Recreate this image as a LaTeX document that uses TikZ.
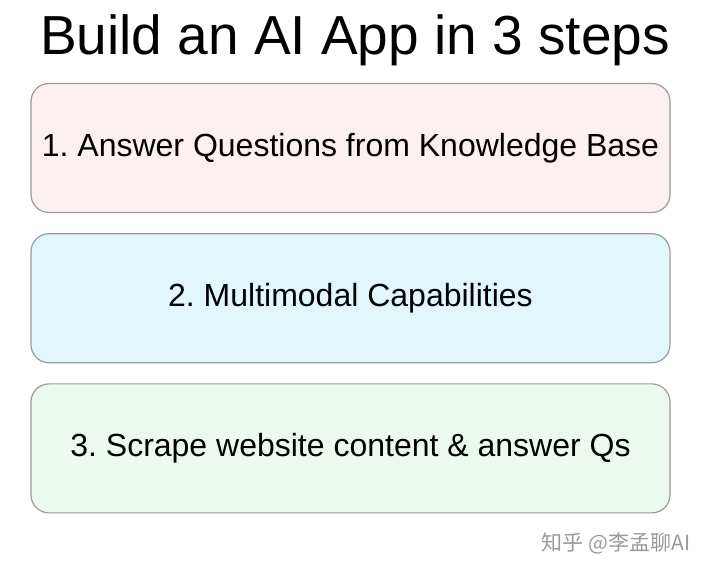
\documentclass[tikz,border=0pt]{standalone}
\usepackage{fontspec}
\setmainfont{Liberation Sans}
\newfontfamily\cjkfont{Noto Sans CJK SC}
\usetikzlibrary{positioning}
\frenchspacing

\definecolor{stepred}{RGB}{253,240,240}
\definecolor{stepcyan}{RGB}{225,247,251}
\definecolor{stepgreen}{RGB}{237,249,238}
\definecolor{stepline}{RGB}{155,155,155}

\begin{document}
\begin{tikzpicture}[x=0.5pt,y=-0.5pt,
            stepbox/.style={draw=stepline, line width=0.6pt, rounded corners=9pt, rectangle,
            minimum width=319.5pt, minimum height=64.5pt, align=center,
            font=\fontsize{16}{19}\selectfont, node distance=10pt},
            title/.style={font=\fontsize{27.5}{32}\selectfont}]
        \useasboundingbox (0,0) rectangle (709,571);
        \node[title] (title) at (355,40) {Build an AI App in 3 steps};
        \node[stepbox, fill=stepred] (kb) at (350.5,148) {1. Answer Questions from Knowledge Base};
        \node[stepbox, fill=stepcyan] (multi) [below=of kb] {2. Multimodal Capabilities};
        \node[stepbox, fill=stepgreen] (scrape) [below=of multi] {3. Scrape website content \& answer Qs};
        \node[text=black!40, font=\cjkfont\fontsize{10.5}{12}\selectfont] (mark) at (616,543) {知乎 @李孟聊AI};
    \end{tikzpicture}
\end{document}
